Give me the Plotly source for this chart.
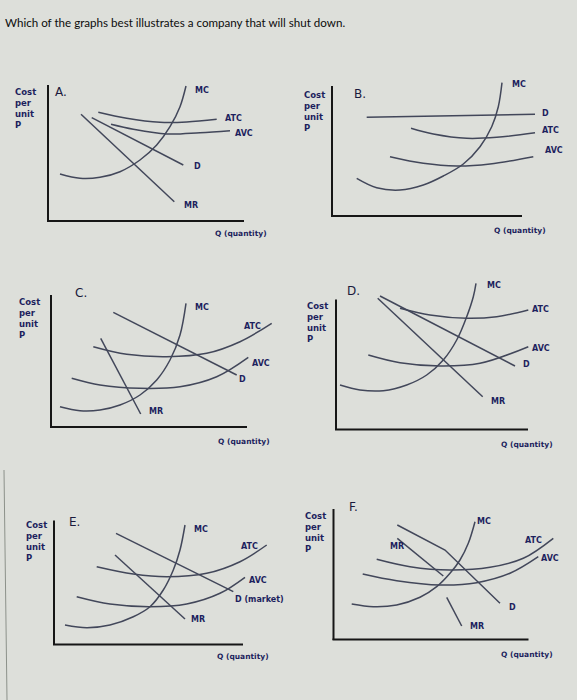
import plotly.graph_objects as go

W_PX, H_PX = 577, 700

TITLE = "Which of the graphs best illustrates a company that will shut down."
Y_LABEL = "Cost<br>per<br>unit<br>P"
X_LABEL = "Q (quantity)"
PANEL_NAMES = ["A.", "B.", "C.", "D.", "E.", "F."]

# ---------- data (Q, cost per unit) ----------
# Panel A
A_MC = [(12, 47), (32, 42.7), (52, 43.7), (72, 49.3), (92, 61), (108.7, 76), (122, 94.3), (132, 114.3), (138, 135)]
A_ATC = [(50.3, 108.7), (78.7, 102.7), (112, 98.7), (138.7, 99), (168.7, 101.7)]
A_AVC = [(63, 96.7), (85.3, 91.7), (118.7, 87), (152, 88.3), (182, 90.3)]
A_D = [(43.7, 103.3), (135.3, 56)]
A_MR = [(33, 106.7), (126.3, 19.3)]

# Panel B
B_MC = [(24.7, 37.7), (44.7, 28.3), (68, 26), (91.3, 31), (111.3, 40), (131.3, 52), (148, 69.3), (159.7, 89.3), (166.3, 109.3), (170, 133.3)]
B_D = [(34.7, 98.7), (203, 101.7)]
B_ATC = [(79, 87.7), (101.3, 82), (134.7, 77.7), (164.7, 78.7), (203, 83.3)]
B_AVC = [(58, 59.3), (91.3, 52.7), (124.7, 50), (158, 52), (201.3, 59.3)]

# Panel C
C_MC = [(9, 20.3), (29, 16.3), (49, 17), (69, 22), (89, 32), (105.7, 47), (119, 67), (129, 92), (135, 123.7)]
C_ATC = [(42.3, 80.3), (75.7, 72.7), (115.7, 70.3), (155.7, 73.7), (189, 85.3), (220.7, 103.7)]
C_AVC = [(20.7, 48.7), (49, 42), (89, 38.7), (129, 40.3), (165.7, 50.3), (197.3, 69.7)]
C_D = [(62.3, 114.7), (185.7, 52)]
C_MR = [(49.7, 88.7), (89.7, 13)]

# Panel D
D_MC = [(4, 44.5), (24, 39.5), (47.3, 38.8), (70.7, 44.5), (90.7, 54.5), (107.3, 69.5), (120.7, 89.5), (130.7, 112.8), (137.3, 132.8), (140, 146.2)]
D_ATC = [(64, 121.2), (94, 114.5), (130.7, 111.2), (160.7, 112.8), (192.3, 119.5)]
D_AVC = [(32.3, 74.5), (64, 66.8), (104, 63.5), (144, 66.2), (192.3, 82.8)]
D_D = [(44, 133.5), (179, 63.5)]
D_MR = [(41.7, 131.2), (146.7, 32.8)]

# Panel E
E_MC = [(11, 19.5), (32.7, 16.8), (56, 19.5), (79.3, 27.8), (96, 37.8), (109.3, 54.5), (119.3, 74.5), (126, 94.5), (131, 119.5)]
E_ATC = [(42.7, 77.8), (79.3, 70.5), (112.7, 67.8), (152.7, 71.2), (186, 82.8), (212.7, 99.5)]
E_AVC = [(22.7, 47.8), (56, 40.5), (96, 37.8), (132.7, 40.5), (166, 51.2), (191, 67.2)]
E_D = [(62, 111.2), (179.3, 52.8)]
E_MR = [(61, 89.5), (131, 25.5)]

# Panel F
F_MC = [(18.2, 35.5), (39.8, 32.8), (63.2, 34.5), (86.5, 42.2), (103.2, 52.8), (116.5, 66.2), (126.5, 79.5), (134.8, 96.2), (141.5, 117.8)]
F_ATC = [(43.2, 80.2), (76.5, 72.8), (116.5, 69.5), (156.5, 72.2), (189.8, 81.2), (219.8, 101.2)]
F_AVC = [(29.2, 65.5), (63.2, 58.8), (106.5, 54.5), (143.2, 56.8), (176.5, 66.2), (204.8, 82.8)]
F_D = [(63.8, 114.5), (111.5, 89.5), (166.5, 36.2)]
F_MR_UPPER = [(63.8, 101.2), (109.8, 63.5)]
F_MR_LOWER = [(113.2, 42.2), (128.2, 13.5)]

# curve labels (text, Q, cost)
A_LABELS = [("MC", 145, 130.3), ("ATC", 174.7, 102.7), ("AVC", 185, 87), ("D", 143.7, 54.3), ("MR", 134, 15.3)]
B_LABELS = [("MC", 178, 131), ("D", 208, 102.7), ("ATC", 208, 85.3), ("AVC", 211, 65.3)]
C_LABELS = [("MC", 141.7, 119.7), ("ATC", 190.7, 100.3), ("AVC", 199, 63.7), ("D", 185.7, 48), ("MR", 95.7, 15.3)]
D_LABELS = [("MC", 149, 144.5), ("ATC", 194, 120.2), ("AVC", 194, 81.2), ("D", 185, 65.2), ("MR", 153, 27.8)]
E_LABELS = [("MC", 137.7, 115.5), ("ATC", 185, 97.8), ("AVC", 192.7, 64.5), ("D (market)", 178.7, 45.5), ("MR", 135, 25.2)]
F_LABELS = [("MC", 141.5, 117.8), ("ATC", 189.5, 99.5), ("AVC", 205.5, 81.2), ("D", 173.2, 32.2), ("MR", 54.5, 92.8), ("MR", 134.5, 13.5)]

# ---------- layout geometry (pixels) ----------
GEOM = [
    dict(origin=(48, 221), axis=(196, 136), cell=(0, 62, 288, 250), letter=(5, 129), ylab=(-35, 136), xlab=(193, -13)),
    dict(origin=(332, 216), axis=(190, 130), cell=(289, 62, 577, 250), letter=(19.7, 121.7), ylab=(-30.3, 128.3), xlab=(188, -14.7)),
    dict(origin=(51, 427), axis=(196, 132), cell=(0, 270, 288, 465), letter=(21.7, 133.7), ylab=(-33.7, 131.7), xlab=(193, -14.7)),
    dict(origin=(336, 429.5), axis=(192, 130), cell=(289, 270, 577, 465), letter=(9, 138.8), ylab=(-31, 130.2), xlab=(190.5, -14.5)),
    dict(origin=(54, 644.5), axis=(189, 124), cell=(0, 490, 288, 680), letter=(12.7, 122.8), ylab=(-30, 126.8), xlab=(189.3, -12.2)),
    dict(origin=(333.5, 639.5), axis=(195, 130.5), cell=(289, 490, 577, 680), letter=(13.2, 132.2), ylab=(-30.8, 130.8), xlab=(193.2, -14.5)),
]

PANELS = [
    ([(A_MC, True), (A_ATC, True), (A_AVC, True), (A_D, False), (A_MR, False)], A_LABELS),
    ([(B_MC, True), (B_D, False), (B_ATC, True), (B_AVC, True)], B_LABELS),
    ([(C_MC, True), (C_ATC, True), (C_AVC, True), (C_D, False), (C_MR, False)], C_LABELS),
    ([(D_MC, True), (D_ATC, True), (D_AVC, True), (D_D, False), (D_MR, False)], D_LABELS),
    ([(E_MC, True), (E_ATC, True), (E_AVC, True), (E_D, False), (E_MR, False)], E_LABELS),
    ([(F_MC, True), (F_ATC, True), (F_AVC, True), (F_D, False), (F_MR_UPPER, False), (F_MR_LOWER, False)], F_LABELS),
]

CURVE_COLOR = "#42475a"
AXIS_COLOR = "#161616"
LABEL_COLOR = "#1d1f5e"
LABEL_FONT = "DejaVu Sans"

fig = go.Figure()
shapes = []
annotations = []
layout_axes = {}

for i, ((curves, labels), g) in enumerate(zip(PANELS, GEOM)):
    n = i + 1
    sfx = "" if n == 1 else str(n)
    xa, ya = "x" + sfx, "y" + sfx
    ox, oy = g["origin"]
    cx0, cy0, cx1, cy1 = g["cell"]
    layout_axes["xaxis" + sfx] = dict(domain=[cx0 / W_PX, cx1 / W_PX], range=[cx0 - ox, cx1 - ox],
                                      visible=False, fixedrange=True, anchor=ya)
    layout_axes["yaxis" + sfx] = dict(domain=[1 - cy1 / H_PX, 1 - cy0 / H_PX], range=[oy - cy1, oy - cy0],
                                      visible=False, fixedrange=True, anchor=xa)
    for pts, curved in curves:
        fig.add_trace(go.Scatter(
            x=[p[0] for p in pts], y=[p[1] for p in pts], mode="lines",
            line=dict(color=CURVE_COLOR, width=1.5, shape="spline" if curved else "linear", smoothing=1.0),
            xaxis=xa, yaxis=ya, hoverinfo="skip", showlegend=False))
    aw, ah = g["axis"]
    shapes.append(dict(type="line", xref=xa, yref=ya, x0=0, y0=-0.5, x1=0, y1=ah,
                       line=dict(color=AXIS_COLOR, width=2)))
    shapes.append(dict(type="line", xref=xa, yref=ya, x0=-1, y0=0, x1=aw, y1=0,
                       line=dict(color=AXIS_COLOR, width=2)))
    for text, qx, py in labels:
        annotations.append(dict(text="<b>%s</b>" % text, x=qx, y=py, xref=xa, yref=ya,
                                xanchor="left", yanchor="middle", showarrow=False,
                                font=dict(family=LABEL_FONT, size=8, color=LABEL_COLOR)))
    lx, ly = g["letter"]
    annotations.append(dict(text=PANEL_NAMES[i], x=lx, y=ly, xref=xa, yref=ya, xanchor="left",
                            yanchor="middle", showarrow=False,
                            font=dict(family=LABEL_FONT, size=12, color="#1a1a3c")))
    yx, yy = g["ylab"]
    annotations.append(dict(text="<b>%s</b>" % Y_LABEL, x=yx, y=yy, xref=xa, yref=ya, xanchor="left",
                            yanchor="top", align="left", showarrow=False,
                            font=dict(family=LABEL_FONT, size=8.5, color=LABEL_COLOR)))
    qx, qy = g["xlab"]
    annotations.append(dict(text="<b>%s</b>" % X_LABEL, x=qx, y=qy, xref=xa, yref=ya, xanchor="center",
                            yanchor="middle", showarrow=False,
                            font=dict(family=LABEL_FONT, size=7.5, color=LABEL_COLOR)))

annotations.append(dict(text=TITLE, x=3 / W_PX, y=1 - 23 / H_PX, xref="paper", yref="paper",
                        xanchor="left", yanchor="middle", showarrow=False,
                        font=dict(family="Lato", size=11.6, color="#0c0c0c")))

shapes.append(dict(type="line", xref="paper", yref="paper", x0=4 / W_PX, y0=1 - 470 / H_PX,
                   x1=7 / W_PX, y1=0, line=dict(color="#8c918a", width=1), layer="below"))

fig.update_layout(
    width=W_PX, height=H_PX, margin=dict(l=0, r=0, t=0, b=0),
    paper_bgcolor="#dddfda", plot_bgcolor="rgba(0,0,0,0)",
    shapes=shapes, annotations=annotations, **layout_axes)

fig.write_html("out.html")
